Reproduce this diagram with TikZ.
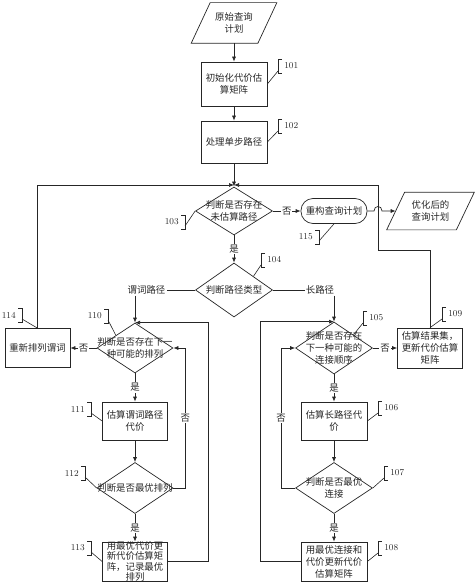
\documentclass[tikz,border=0pt]{standalone}
\usepackage{fontspec}
\newfontfamily\cjk{Noto Sans CJK SC}
\usetikzlibrary{shapes.geometric,arrows.meta}

% callout number, bracket opening to the right
\newcommand\numr[4]{%
  \draw[line width=0.6pt] #1 -- (#2,#3+5);
  \draw[line width=0.6pt] (#2+4,#3-7) -- (#2,#3-7) -- (#2,#3+7) -- (#2+4,#3+7);
  \node[num,anchor=west] (n#4) at (#2+6,#3) {#4};
}
% callout number, bracket opening to the left
\newcommand\numl[4]{%
  \draw[line width=0.6pt] #1 -- (#2,#3+4);
  \draw[line width=0.6pt] (#2-4,#3-7) -- (#2,#3-7) -- (#2,#3+7) -- (#2-4,#3+7);
  \node[num,anchor=east] (n#4) at (#2-6,#3) {#4};
}

\begin{document}
\begin{tikzpicture}[
  x=1pt, y=-1pt,
  color=black!85,
  line width=0.7pt,
  >={Latex[length=5pt,width=4pt]},
  ptext/.style={align=center, font=\cjk\fontsize{9.4}{12}\selectfont},
  proc/.style={ptext, draw, minimum width=66pt, minimum height=40pt, inner sep=1pt},
  term/.style={ptext, draw, rounded corners=12pt, minimum width=66pt, minimum height=25pt},
  io/.style={ptext, minimum height=40pt, inner sep=0pt},
  dec/.style={draw, diamond, minimum width=77pt, minimum height=50pt, inner sep=0pt},
  yn/.style={ptext, fill=white, inner sep=1pt},
  num/.style={font=\fontsize{9}{10}\selectfont, inner sep=0pt},
  ]
  \useasboundingbox (0,0) rectangle (474,583);

  % main column
  \node[io,minimum width=66pt] (start) at (234,23) {原始查询\\计划};
  \node[proc,minimum height=44pt] (b101) at (234,84) {初始化代价估\\算矩阵};
  \node[proc,minimum height=42pt] (b102) at (234,142) {处理单步路径};
  \node[dec,minimum height=48pt,label={[ptext]center:{判断是否存在\\未估算路径}}] (d103) at (234,211) {};
  \node[term] (r115) at (334,211) {重构查询计划};
  \node[io,minimum width=69pt,minimum height=37pt] (out) at (430.5,211) {优化后的\\查询计划};
  \node[dec,minimum height=54pt,label={[ptext]center:判断路径类型}] (d104) at (234,290) {};
  \node[ptext,inner sep=1pt] (p1) at (146.5,290) {谓词路径};
  \node[ptext,inner sep=1pt] (p2) at (320,290) {长路径};

  % predicate path branch
  \node[dec,minimum width=76pt,label={[ptext]center:{判断是否存在下一\\种可能的排列}}] (d110) at (135,348) {};
  \node[proc,minimum width=65pt,minimum height=39pt] (b114) at (37.5,348) {重新排列谓词};
  \node[proc,minimum width=65pt,minimum height=38pt] (b111) at (135,421) {估算谓词路径\\代价};
  \node[dec,minimum width=76pt,minimum height=51pt,label={[ptext]center:判断是否最优排列}] (d112) at (135,488) {};
  \node[proc,minimum width=65pt,minimum height=39pt,
    label={[ptext,font=\cjk\fontsize{9.4}{10.5}\selectfont]center:{用最优代价更\\新代价估算矩\\阵，记录最优\\排列}}] (b113) at (135,561.5) {};

  % long path branch
  \node[dec,minimum height=52pt,label={[ptext]center:{判断是否存在\\下一种可能的\\连接顺序}}] (d105) at (334,348) {};
  \node[proc,minimum width=65pt] (b109) at (430,348) {估算结果集，\\更新代价估算\\矩阵};
  \node[proc,minimum height=38pt] (b106) at (334,421) {估算长路径代\\价};
  \node[dec,minimum height=51pt,label={[ptext]center:{判断是否最优\\连接}}] (d107) at (334,488) {};
  \node[proc,minimum height=39pt] (b108) at (334,561.5) {用最优连接和\\代价更新代价\\估算矩阵};

  % parallelograms
  \foreach \n/\s in {start/9.5, out/9}
    \draw ([xshift=\s pt]\n.north west) -- ([xshift=\s pt]\n.north east)
      -- ([xshift=-\s pt]\n.south east) -- ([xshift=-\s pt]\n.south west) -- cycle;

  \coordinate (j) at (234,185);

  \draw[->] (start) -- (b101);
  \draw[->] (b101) -- (b102);
  \draw[->] (b102) -- (d103);
  \draw[->] (b114.north) |- (j);
  \draw[->] (b109.north) |- (378,250) |- (j);
  \draw[->] (d103) -- node[yn]{否} (r115);
  \draw[->] (r115.east) -- (374,211) .. controls (374,205) and (382,205) .. (382,211) -- (out.west);
  \draw[->] (d103) -- node[yn]{是} (d104);
  \draw (d104.west) -- (p1);
  \draw (d104.east) -- (p2);
  \draw[->] (p1.south -| d110.north) -- (d110.north);
  \draw[->] (p2.south -| d105.north) -- (d105.north);

  \draw[->] (d110) -- node[yn]{否} (b114);
  \draw[->] (d110) -- node[yn]{是} (b111);
  \draw[->] (b111) -- (d112);
  \draw[->] (d112.east) -- ++(12,0) |- node[yn,pos=0.25]{否} (d110.east);
  \draw[->] (d112) -- node[yn]{是} (b113);
  \draw[->] (b113.east) -- ++(40,0) |- (d110.north);

  \draw[->] (d105) -- node[yn]{否} (b109);
  \draw[->] (d105) -- node[yn]{是} (b106);
  \draw[->] (b106) -- (d107);
  \draw[->] (d107.west) -- ++(-14,0) |- node[yn,pos=0.25]{否} (d105.west);
  \draw[->] (d107) -- node[yn]{是} (b108);
  \draw[->] (b108.west) -- ++(-40,0) |- (d105.north);

  % reference numbers
  \numr{(b101.east)}{278}{66}{101}
  \numr{(b102.east)}{278}{126}{102}
  \numl{(d103.west)}{185}{222}{103}
  \numl{(r115.south)}{319}{237}{115}
  \numr{(d104.north east)}{261}{260}{104}
  \numl{(d110.north west)}{108}{316}{110}
  \numl{(b114.north)}{22}{315}{114}
  \numl{(b111.west)}{91}{409}{111}
  \numl{(d112.west)}{85}{473}{112}
  \numl{(b113.west)}{91}{548}{113}
  \numr{(d105.north east)}{363}{318}{105}
  \numr{(b109.north)}{442}{314}{109}
  \numr{(b106.east)}{378}{408}{106}
  \numr{(d107.east)}{384}{473}{107}
  \numr{(b108.east)}{378}{548}{108}
\end{tikzpicture}
\end{document}
